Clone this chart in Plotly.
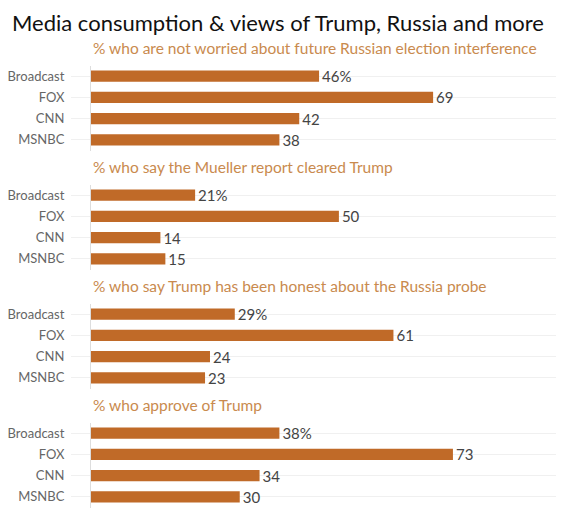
import plotly.graph_objects as go
from plotly.subplots import make_subplots

TITLE = "Media consumption & views of Trump, Russia and more"
networks = ["Broadcast", "FOX", "CNN", "MSNBC"]
questions = [
    "% who are not worried about future Russian election interference",
    "% who say the Mueller report cleared Trump",
    "% who say Trump has been honest about the Russia probe",
    "% who approve of Trump",
]
not_worried = [46, 69, 42, 38]
mueller_cleared = [21, 50, 14, 15]
trump_honest = [29, 61, 24, 23]
approve = [38, 73, 34, 30]
panels = [not_worried, mueller_cleared, trump_honest, approve]

BAR_COLOR = "#c06a28"
SUB_COLOR = "#c98a4e"
# the page body adds an 8px margin, so the figure is drawn 8px smaller
W, H = 556, 505
LEFT = 83
PW = W - LEFT

fig = make_subplots(rows=4, cols=1)

for i, vals in enumerate(panels):
    labels = [f"{v}%" if j == 0 else str(v) for j, v in enumerate(vals)]
    fig.add_trace(go.Bar(x=vals, y=networks, orientation="h",
                         marker=dict(color=BAR_COLOR, line=dict(width=0)),
                         text=labels, textposition="outside",
                         constraintext="none",
                         textfont=dict(size=15, color="#444444"),
                         cliponaxis=False), row=i+1, col=1)
    top = 57.5 + 119*i
    bottom = top + 85
    fig.update_yaxes(domain=[1-bottom/H, 1-top/H], row=i+1, col=1)
    fig.add_annotation(text=questions[i], xref="paper", yref="paper",
                       x=0, y=1-(top-17.5)/H, xanchor="left", yanchor="middle",
                       showarrow=False, font=dict(size=15.5, color=SUB_COLOR))

fig.update_xaxes(range=[0, 95.4], visible=False, automargin=False)
fig.update_yaxes(autorange="reversed", showgrid=True, gridcolor="#f0f0f0",
                 ticks="outside", ticklen=19, tickcolor="#f0f0f0",
                 ticklabelstandoff=4,
                 showline=True, linecolor="#dddddd", linewidth=1,
                 automargin=False,
                 tickfont=dict(size=13, color="#666666"))

fig.add_annotation(text=TITLE, xref="paper", yref="paper", x=(3-LEFT)/PW, y=1,
                   xanchor="left", yanchor="top", showarrow=False, borderpad=0,
                   font=dict(size=22, color="#111111"))

fig.update_layout(
    width=W, height=H,
    margin=dict(l=LEFT, r=0, t=0, b=0),
    showlegend=False,
    bargap=0.48,
    paper_bgcolor="white",
    plot_bgcolor="white",
    font=dict(family="Lato, Roboto, sans-serif"),
)

fig.write_html("out.html")
